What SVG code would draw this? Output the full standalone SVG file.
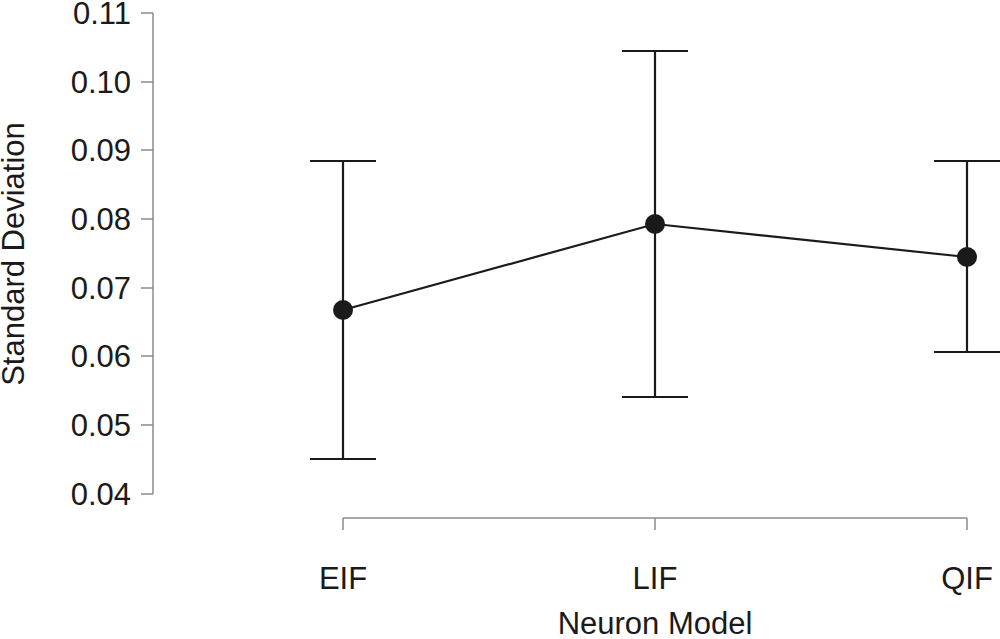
<svg xmlns="http://www.w3.org/2000/svg" width="1000" height="639" viewBox="0 0 1000 639">
<style>
.ax{stroke:#8c8c8c;stroke-width:1.5;fill:none}
.d{stroke:#1a1a1a;stroke-width:2.2;fill:none}
text{font-family:"Liberation Sans",Arial,sans-serif;font-size:31px;fill:#1a1a1a}
.yl{text-anchor:end}
.xl{text-anchor:middle}
</style>
<rect width="1000" height="639" fill="#fff"/>
<g id="yaxis">
<path class="ax" d="M153,13V494M141,13H153M141,82H153M141,150H153M141,219H153M141,288H153M141,356H153M141,425H153M141,494H153"/>
<text class="yl" x="131" y="24">0.11</text>
<text class="yl" x="131" y="93">0.10</text>
<text class="yl" x="131" y="161">0.09</text>
<text class="yl" x="131" y="230">0.08</text>
<text class="yl" x="131" y="299">0.07</text>
<text class="yl" x="131" y="367">0.06</text>
<text class="yl" x="131" y="436">0.05</text>
<text class="yl" x="131" y="505">0.04</text>
<text class="xl" transform="translate(24,254) rotate(-90)">Standard Deviation</text>
</g>
<g id="xaxis">
<path class="ax" d="M343,518H967M343,518V530M655,518V530M967,518V530"/>
<text class="xl" x="343" y="589">EIF</text>
<text class="xl" x="655" y="589">LIF</text>
<text class="xl" x="967" y="589">QIF</text>
<text class="xl" x="655" y="634">Neuron Model</text>
</g>
<g id="connectors">
<path class="d" d="M343,310L655,224L967,257"/>
<path class="d" d="M343,161V459M310,161H376M310,459H376"/>
<path class="d" d="M655,51V397M622,51H688M622,397H688"/>
<path class="d" d="M967,161V352M934,161H1000M934,352H1000"/>
</g>
<g id="EIF"><circle cx="343" cy="310" r="10" fill="#1a1a1a"/></g>
<g id="LIF"><circle cx="655" cy="224" r="10" fill="#1a1a1a"/></g>
<g id="QIF"><circle cx="967" cy="257" r="10" fill="#1a1a1a"/></g>
</svg>
